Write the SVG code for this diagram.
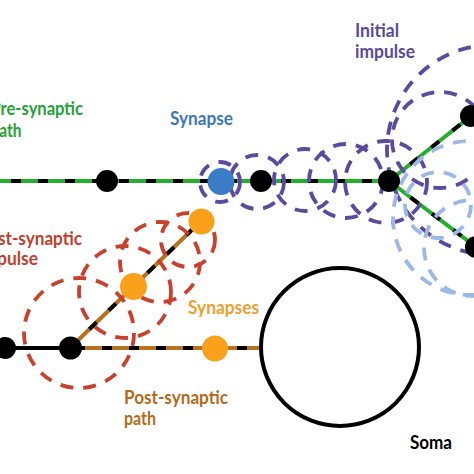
<svg xmlns="http://www.w3.org/2000/svg" width="474" height="474" viewBox="0 0 474 474">
<style>
text{font-family:"Lato","Open Sans","Liberation Sans",sans-serif;font-weight:bold;font-size:18px}
.base{fill:none;stroke-width:4}
.dash{fill:none;stroke:#000;stroke-width:4;stroke-dasharray:10 17}
.pu{fill:none;stroke:#5b4ba0;stroke-width:3.8;stroke-dasharray:13 10}
.lb{fill:none;stroke:#9cb8e6;stroke-width:3.8;stroke-dasharray:13 10}
.rd{fill:none;stroke:#c9412e;stroke-width:3.8;stroke-dasharray:13 10}
.blk{fill:#000}
.org{fill:#f9a11b}
</style>
<rect width="474" height="474" fill="#fff"/>
<g id="connectors">
  <line class="base" stroke="#22b02a" x1="0" y1="181" x2="389" y2="181"/>
  <line class="dash" x1="0" y1="181" x2="389" y2="181" stroke-dashoffset="-38"/>
  <line class="base" stroke="#22b02a" x1="389" y1="181" x2="471" y2="116"/>
  <line class="dash" x1="389" y1="181" x2="471" y2="116"/>
  <line class="base" stroke="#22b02a" x1="389" y1="181" x2="476" y2="247"/>
  <line class="dash" x1="389" y1="181" x2="476" y2="247"/>
  <line class="base" stroke="#000" x1="0" y1="348" x2="70" y2="348"/>
  <line class="base" stroke="#b8721d" x1="70" y1="348" x2="262" y2="348"/>
  <line class="dash" x1="70" y1="348" x2="262" y2="348" stroke-dashoffset="-5"/>
  <line class="base" stroke="#b8721d" x1="70" y1="348" x2="201" y2="221"/>
  <line class="dash" x1="70" y1="348" x2="201" y2="221"/>
</g>
<g id="soma">
  <circle cx="340" cy="347" r="79" fill="none" stroke="#000" stroke-width="4"/>
  <text x="410" y="449" fill="#000" textLength="42" lengthAdjust="spacingAndGlyphs">Soma</text>
</g>
<g id="initial-impulse-waves">
  <circle class="pu" cx="220" cy="182" r="20"/>
  <circle class="pu" cx="257" cy="182" r="27"/>
  <circle class="pu" cx="305" cy="180" r="31"/>
  <circle class="pu" cx="346" cy="181" r="37"/>
  <circle class="pu" cx="386" cy="182" r="41"/>
  <circle class="pu" cx="440" cy="140" r="48"/>
  <circle class="pu" cx="492" cy="150" r="105"/>
</g>
<g id="branch-waves">
  <circle class="lb" cx="438" cy="205" r="33"/>
  <circle class="lb" cx="470" cy="218" r="77"/>
  <circle class="lb" cx="472" cy="248" r="48"/>
</g>
<g id="post-synaptic-impulse-waves">
  <circle class="rd" cx="79" cy="333" r="55"/>
  <circle class="rd" cx="125" cy="292" r="46"/>
  <circle class="rd" cx="160" cy="262" r="40"/>
  <circle class="rd" cx="188" cy="240" r="27"/>
</g>
<g id="node-pre1"><circle class="blk" cx="107" cy="181" r="11"/></g>
<g id="node-synapse"><circle cx="221" cy="181.5" r="13.5" fill="#3a7dc6"/></g>
<g id="node-pre2"><circle class="blk" cx="261" cy="181" r="11"/></g>
<g id="node-branch"><circle class="blk" cx="389" cy="181" r="11"/></g>
<g id="node-upper"><circle class="blk" cx="471" cy="116" r="11"/></g>
<g id="node-lower"><circle class="blk" cx="476" cy="247" r="11"/></g>
<g id="node-post1"><circle class="blk" cx="5" cy="348" r="11"/></g>
<g id="node-post2"><circle class="blk" cx="70.5" cy="348" r="11.5"/></g>
<g id="node-syn-a"><circle class="org" cx="215" cy="348.5" r="13"/></g>
<g id="node-syn-b"><circle class="org" cx="133.5" cy="286.5" r="13.5"/></g>
<g id="node-syn-c"><circle class="org" cx="201.5" cy="221.5" r="13"/></g>
<g id="labels">
  <text x="-9.5" y="115" fill="#22a336" textLength="92.5" lengthAdjust="spacingAndGlyphs">Pre-synaptic</text>
  <text x="-9.5" y="137" fill="#22a336" textLength="31" lengthAdjust="spacingAndGlyphs">path</text>
  <text x="170" y="125" fill="#3b78b8" textLength="63" lengthAdjust="spacingAndGlyphs">Synapse</text>
  <text x="355" y="37" fill="#5a4a9a" textLength="44" lengthAdjust="spacingAndGlyphs">Initial</text>
  <text x="355" y="58" fill="#5a4a9a" textLength="60" lengthAdjust="spacingAndGlyphs">impulse</text>
  <text x="-22" y="245" fill="#c0402e" textLength="104" lengthAdjust="spacingAndGlyphs">Post-synaptic</text>
  <text x="-22" y="265" fill="#c0402e" textLength="60" lengthAdjust="spacingAndGlyphs">impulse</text>
  <text x="188" y="314" fill="#f0a030" textLength="71" lengthAdjust="spacingAndGlyphs">Synapses</text>
  <text x="124" y="404" fill="#b36b1a" textLength="104" lengthAdjust="spacingAndGlyphs">Post-synaptic</text>
  <text x="124" y="425" fill="#b36b1a" textLength="32" lengthAdjust="spacingAndGlyphs">path</text>
</g>
</svg>
